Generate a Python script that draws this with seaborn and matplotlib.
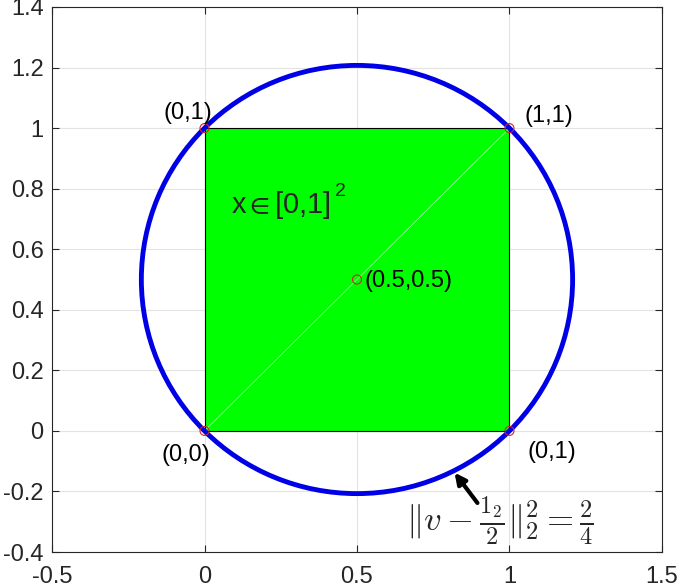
import matplotlib
matplotlib.use('Agg')
import matplotlib.pyplot as plt
from matplotlib.patches import Circle, Rectangle
import numpy as np
import pandas as pd
import seaborn as sns

# data
square_corner = (0.0, 0.0)
square_side = 1.0
ball_center = (0.5, 0.5)
ball_radius_sq = 2 / 4
diag_x = [0, 1]
diag_y = [0, 1]
point_x = [0, 1, 0, 1, 0.5]
point_y = [0, 0, 1, 1, 0.5]
point_labels = ['(0,0)', '(0,1)', '(0,1)', '(1,1)', '(0.5,0.5)']
label_x = [-0.06, 1.06, -0.055, 1.05, 0.525]
label_y = [-0.08, -0.07, 1.05, 1.04, 0.495]
label_ha = ['center', 'left', 'center', 'left', 'left']
arrow_head = (0.82, -0.138)
arrow_tail = (0.895, -0.238)
x_ticks = [-0.5, 0, 0.5, 1, 1.5]
x_ticklabels = ['-0.5', '0', '0.5', '1', '1.5']
y_ticks = [-0.4, -0.2, 0, 0.2, 0.4, 0.6, 0.8, 1, 1.2, 1.4]
y_ticklabels = ['-0.4', '-0.2', '0', '0.2', '0.4', '0.6', '0.8', '1', '1.2', '1.4']

sns.set_style('whitegrid')
plt.rcParams['font.family'] = ['Liberation Sans', 'DejaVu Sans']
plt.rcParams['mathtext.fontset'] = 'cm'

fig = plt.figure(figsize=(6.81, 5.88), dpi=100)
ax = fig.add_axes([0.0764, 0.0612, 0.8956, 0.9269])

ax.add_patch(Rectangle(square_corner, square_side, square_side, facecolor='#00ff00',
                       edgecolor='black', linewidth=0.8, zorder=2))
sns.lineplot(x=diag_x, y=diag_y, color='#a8ffa8', linewidth=0.5, ax=ax, zorder=3)
ax.add_patch(Circle(ball_center, np.sqrt(ball_radius_sq), fill=False, edgecolor='#0000e6',
                    linewidth=3.5, zorder=4))

pts = pd.DataFrame({'x': point_x, 'y': point_y})
sns.scatterplot(data=pts, x='x', y='y', marker='o', s=42, facecolor='none',
                edgecolor='#d82030', linewidth=0.8, ax=ax, zorder=5)

for lx, ly, t, ha in zip(label_x, label_y, point_labels, label_ha):
    ax.text(lx, ly, t, fontsize=17, ha=ha, va='center', color='black', zorder=6)

ax.text(0.088, 0.745, r'x$\in$[0,1]', fontsize=21, ha='left', va='center', zorder=6,
        math_fontfamily='stixsans')
ax.text(0.428, 0.79, '2', fontsize=14, ha='left', va='center', zorder=6)

ax.annotate('', xy=arrow_head, xytext=arrow_tail,
            arrowprops=dict(arrowstyle='-|>', color='black', lw=3, mutation_scale=16,
                            shrinkA=0, shrinkB=0), zorder=7)
ax.text(0.66, -0.30, r'$\|v-\frac{\mathbf{1_2}}{2}\|_2^2=\frac{2}{4}$', fontsize=25,
        ha='left', va='center', color='#262626', zorder=7)

ax.set_xlim(-0.5, 1.5)
ax.set_ylim(-0.4, 1.4)
ax.set_xticks(x_ticks)
ax.set_xticklabels(x_ticklabels)
ax.set_yticks(y_ticks)
ax.set_yticklabels(y_ticklabels)
ax.set_xlabel('')
ax.set_ylabel('')
ax.grid(True, color='#e3e3e3', linewidth=0.8)
ax.set_axisbelow(True)
for sp in ax.spines.values():
    sp.set_visible(True)
    sp.set_color('#262626')
    sp.set_linewidth(0.8)
ax.tick_params(direction='in', length=5, width=0.8, color='#262626', labelsize=17,
               labelcolor='#262626', top=True, right=True, bottom=True, left=True,
               labeltop=False, labelright=False)
ax.tick_params(axis='x', pad=10)
ax.tick_params(axis='y', pad=6)

fig.savefig('out.png', dpi=100)
